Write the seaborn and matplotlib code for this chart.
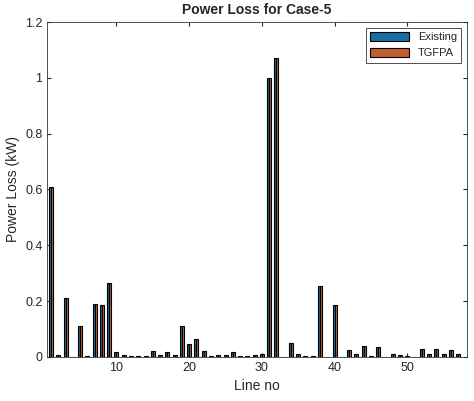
import numpy as np
import pandas as pd
import matplotlib
matplotlib.use("Agg")
import matplotlib.pyplot as plt
import seaborn as sns

lines = list(range(1, 58))
existing = [0.61, 0.005, 0.21, 0.0, 0.11, 0.003, 0.19, 0.185, 0.265, 0.018,
            0.008, 0.002, 0.003, 0.003, 0.02, 0.008, 0.017, 0.006, 0.11, 0.045,
            0.063, 0.02, 0.003, 0.007, 0.006, 0.017, 0.003, 0.002, 0.006, 0.009,
            1.0, 1.07, 0.0, 0.05, 0.01, 0.003, 0.003, 0.255, 0.0, 0.185,
            0.0, 0.025, 0.01, 0.04, 0.003, 0.035, 0.0, 0.012, 0.007, 0.004,
            0.0, 0.03, 0.01, 0.03, 0.01, 0.025, 0.01]
tgfpa = list(existing)

df = pd.DataFrame({
    "line": lines * 2,
    "loss": existing + tgfpa,
    "method": ["Existing"] * 57 + ["TGFPA"] * 57,
})

sns.set_style("white")
plt.rcParams["font.family"] = ["Arial", "Liberation Sans", "DejaVu Sans"]
fig, ax = plt.subplots(figsize=(4.74, 4.01), dpi=100)
sns.barplot(data=df, x="line", y="loss", hue="method", native_scale=True,
            palette=["#0072BD", "#D95319"], edgecolor="black", linewidth=0.8,
            width=0.55, ax=ax)
ax.set_xlim(0.5, 58.2)
ax.set_ylim(0, 1.2)
ax.set_xticks([10, 20, 30, 40, 50])
ax.set_yticks(np.arange(0, 1.21, 0.2))
ax.set_yticklabels(["0", "0.2", "0.4", "0.6", "0.8", "1", "1.2"])
ax.tick_params(labelsize=9, direction="in", length=3, bottom=True, left=True, top=True, right=True)
ax.set_xlabel("Line no", fontsize=10)
ax.set_ylabel("Power Loss (kW)", fontsize=10)
ax.set_title("Power Loss for Case-5", fontsize=10, fontweight="bold")
for s in ax.spines.values():
    s.set_color("#333333")
    s.set_linewidth(0.6)
leg = ax.legend(loc="upper right", fontsize=8, frameon=True, fancybox=False,
                edgecolor="black", handlelength=3.5, handleheight=0.9)
leg.get_frame().set_linewidth(0.6)
fig.subplots_adjust(left=0.1, right=0.985, top=0.945, bottom=0.11)
fig.savefig("out.png", dpi=100)
